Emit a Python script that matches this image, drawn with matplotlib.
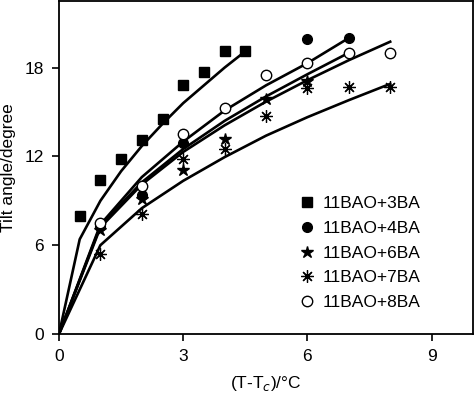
import matplotlib
matplotlib.use("Agg")
import matplotlib.pyplot as plt

plt.rcParams['font.family'] = ['Liberation Sans', 'DejaVu Sans']

# measured data points
x_3ba = [0.5, 1, 1.5, 2, 2.5, 3, 3.5, 4, 4.5]
y_3ba = [8.0, 10.4, 11.8, 13.1, 14.5, 16.8, 17.7, 19.1, 19.1]

x_4ba = [1, 2, 3, 6, 7]
y_4ba = [7.3, 9.4, 12.9, 19.9, 20.0]

x_6ba = [1, 2, 3, 4, 5, 6]
y_6ba = [7.0, 9.1, 11.1, 13.2, 15.9, 17.1]

x_7ba = [1, 2, 3, 4, 5, 6, 7, 8]
y_7ba = [5.4, 8.1, 11.8, 12.5, 14.7, 16.6, 16.7, 16.7]

x_8ba = [1, 2, 3, 4, 5, 6, 7, 8]
y_8ba = [7.5, 10.0, 13.5, 15.3, 17.5, 18.3, 19.0, 19.0]

# fitted curves
fx_3ba = [0, 0.5, 1, 1.5, 2, 2.5, 3, 3.5, 4, 4.5]
fy_3ba = [0, 6.4, 9.0, 11.0, 12.7, 14.2, 15.6, 16.8, 18.0, 19.1]
fx_4ba = [0, 1, 2, 3, 4, 5, 6, 7]
fy_4ba = [0, 7.4, 10.6, 13.0, 15.1, 16.8, 18.3, 20.0]
fx_6ba = [0, 1, 2, 3, 4, 5, 6, 7]
fy_6ba = [0, 7.3, 10.25, 12.5, 14.4, 16.05, 17.55, 19.0]
fx_8ba = [0, 1, 2, 3, 4, 5, 6, 7, 8]
fy_8ba = [0, 7.2, 10.1, 12.3, 14.1, 15.7, 17.15, 18.5, 19.75]
fx_7ba = [0, 1, 2, 3, 4, 5, 6, 7, 8]
fy_7ba = [0, 6.0, 8.5, 10.35, 11.95, 13.4, 14.65, 15.8, 16.9]

labels = ['11BAO+3BA', '11BAO+4BA', '11BAO+6BA', '11BAO+7BA', '11BAO+8BA']
xticks = [0, 3, 6, 9]
yticks = [0, 6, 12, 18]

fig = plt.figure(figsize=(4.74, 3.98), dpi=100)
ax = fig.add_axes([59/474, 64/398, 414/474, 333/398])

lw = 1.9
for fx, fy in [(fx_3ba, fy_3ba), (fx_4ba, fy_4ba), (fx_6ba, fy_6ba),
               (fx_8ba, fy_8ba), (fx_7ba, fy_7ba)]:
    ax.plot(fx, fy, color='black', lw=lw, zorder=2)

h1, = ax.plot(x_3ba, y_3ba, ls='none', marker='s', ms=6.5, mfc='black', mec='black', zorder=3)
h2, = ax.plot(x_4ba, y_4ba, ls='none', marker='o', ms=7, mfc='black', mec='black', zorder=3)
h3, = ax.plot(x_6ba, y_6ba, ls='none', marker='*', ms=9, mfc='black', mec='black', zorder=3)
h4, = ax.plot(x_7ba, y_7ba, ls='none', marker=(8, 2, 0), ms=9, mew=0.9, color='black', zorder=3)
h5, = ax.plot(x_8ba, y_8ba, ls='none', marker='o', ms=7.5, mfc='white', mec='black', mew=1.0, zorder=4)

ax.legend([h1, h2, h3, h4, h5], labels, frameon=False, loc='upper left',
          bbox_to_anchor=(0.556, 0.44), fontsize=12.5, handlelength=1.0,
          handletextpad=0.45, labelspacing=0.55, borderpad=0)

ax.set_xlim(0, 10)
ax.set_ylim(0, 22.5)
ax.set_xticks(xticks)
ax.set_yticks(yticks)
ax.tick_params(direction='out', length=5, width=1.2, labelsize=12.5, pad=6)
for s in ax.spines.values():
    s.set_linewidth(1.3)

ax.set_xlabel('(T-T$_{c}$)/°C', fontsize=12.5, labelpad=7)
ax.set_ylabel('Tilt angle/degree', fontsize=12.5, labelpad=6)

fig.savefig('out.png', dpi=100)
